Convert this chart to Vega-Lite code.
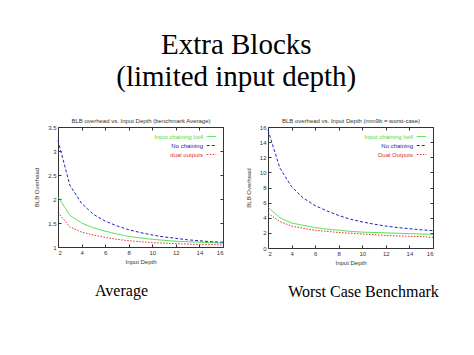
{
  "$schema": "https://vega.github.io/schema/vega-lite/v6.json",
  "background": "white",
  "padding": {"left": 33, "top": 31, "right": 10, "bottom": 5},
  "title": {
    "text": ["Extra Blocks", "(limited input depth)"],
    "font": "Liberation Serif",
    "fontSize": 29,
    "fontWeight": "normal",
    "lineHeight": 32,
    "color": "black",
    "anchor": "middle",
    "offset": 25
  },
  "datasets": {
    "avg": [
      {"depth": 2, "series": "Input chaining lut4", "overhead": 2.05},
      {"depth": 3, "series": "Input chaining lut4", "overhead": 1.66},
      {"depth": 4, "series": "Input chaining lut4", "overhead": 1.5},
      {"depth": 5, "series": "Input chaining lut4", "overhead": 1.4},
      {"depth": 6, "series": "Input chaining lut4", "overhead": 1.33},
      {"depth": 7, "series": "Input chaining lut4", "overhead": 1.27},
      {"depth": 8, "series": "Input chaining lut4", "overhead": 1.22},
      {"depth": 9, "series": "Input chaining lut4", "overhead": 1.19},
      {"depth": 10, "series": "Input chaining lut4", "overhead": 1.16},
      {"depth": 11, "series": "Input chaining lut4", "overhead": 1.14},
      {"depth": 12, "series": "Input chaining lut4", "overhead": 1.12},
      {"depth": 13, "series": "Input chaining lut4", "overhead": 1.11},
      {"depth": 14, "series": "Input chaining lut4", "overhead": 1.1},
      {"depth": 15, "series": "Input chaining lut4", "overhead": 1.09},
      {"depth": 16, "series": "Input chaining lut4", "overhead": 1.08},
      {"depth": 2, "series": "No chaining", "overhead": 3.22},
      {"depth": 3, "series": "No chaining", "overhead": 2.29},
      {"depth": 4, "series": "No chaining", "overhead": 1.91},
      {"depth": 5, "series": "No chaining", "overhead": 1.68},
      {"depth": 6, "series": "No chaining", "overhead": 1.54},
      {"depth": 7, "series": "No chaining", "overhead": 1.44},
      {"depth": 8, "series": "No chaining", "overhead": 1.36},
      {"depth": 9, "series": "No chaining", "overhead": 1.3},
      {"depth": 10, "series": "No chaining", "overhead": 1.25},
      {"depth": 11, "series": "No chaining", "overhead": 1.21},
      {"depth": 12, "series": "No chaining", "overhead": 1.18},
      {"depth": 13, "series": "No chaining", "overhead": 1.15},
      {"depth": 14, "series": "No chaining", "overhead": 1.13},
      {"depth": 15, "series": "No chaining", "overhead": 1.11},
      {"depth": 16, "series": "No chaining", "overhead": 1.1},
      {"depth": 2, "series": "dual outputs", "overhead": 1.72},
      {"depth": 3, "series": "dual outputs", "overhead": 1.42},
      {"depth": 4, "series": "dual outputs", "overhead": 1.31},
      {"depth": 5, "series": "dual outputs", "overhead": 1.25},
      {"depth": 6, "series": "dual outputs", "overhead": 1.2},
      {"depth": 7, "series": "dual outputs", "overhead": 1.16},
      {"depth": 8, "series": "dual outputs", "overhead": 1.13},
      {"depth": 9, "series": "dual outputs", "overhead": 1.11},
      {"depth": 10, "series": "dual outputs", "overhead": 1.09},
      {"depth": 11, "series": "dual outputs", "overhead": 1.08},
      {"depth": 12, "series": "dual outputs", "overhead": 1.07},
      {"depth": 13, "series": "dual outputs", "overhead": 1.06},
      {"depth": 14, "series": "dual outputs", "overhead": 1.05},
      {"depth": 15, "series": "dual outputs", "overhead": 1.05},
      {"depth": 16, "series": "dual outputs", "overhead": 1.04}
    ],
    "worst": [
      {"depth": 2, "series": "Input chaining lut4", "overhead": 5.4},
      {"depth": 3, "series": "Input chaining lut4", "overhead": 4.0},
      {"depth": 4, "series": "Input chaining lut4", "overhead": 3.3},
      {"depth": 5, "series": "Input chaining lut4", "overhead": 3.0},
      {"depth": 6, "series": "Input chaining lut4", "overhead": 2.7},
      {"depth": 7, "series": "Input chaining lut4", "overhead": 2.5},
      {"depth": 8, "series": "Input chaining lut4", "overhead": 2.35},
      {"depth": 9, "series": "Input chaining lut4", "overhead": 2.2},
      {"depth": 10, "series": "Input chaining lut4", "overhead": 2.1},
      {"depth": 11, "series": "Input chaining lut4", "overhead": 2.05},
      {"depth": 12, "series": "Input chaining lut4", "overhead": 2.0},
      {"depth": 13, "series": "Input chaining lut4", "overhead": 1.95},
      {"depth": 14, "series": "Input chaining lut4", "overhead": 1.9},
      {"depth": 15, "series": "Input chaining lut4", "overhead": 1.85},
      {"depth": 16, "series": "Input chaining lut4", "overhead": 1.8},
      {"depth": 2, "series": "No chaining", "overhead": 15.6},
      {"depth": 3, "series": "No chaining", "overhead": 10.6},
      {"depth": 4, "series": "No chaining", "overhead": 8.1},
      {"depth": 5, "series": "No chaining", "overhead": 6.6},
      {"depth": 6, "series": "No chaining", "overhead": 5.6},
      {"depth": 7, "series": "No chaining", "overhead": 4.9},
      {"depth": 8, "series": "No chaining", "overhead": 4.3},
      {"depth": 9, "series": "No chaining", "overhead": 3.8},
      {"depth": 10, "series": "No chaining", "overhead": 3.45},
      {"depth": 11, "series": "No chaining", "overhead": 3.15},
      {"depth": 12, "series": "No chaining", "overhead": 2.9},
      {"depth": 13, "series": "No chaining", "overhead": 2.7},
      {"depth": 14, "series": "No chaining", "overhead": 2.55},
      {"depth": 15, "series": "No chaining", "overhead": 2.4},
      {"depth": 16, "series": "No chaining", "overhead": 2.3},
      {"depth": 2, "series": "Dual Outputs", "overhead": 4.6},
      {"depth": 3, "series": "Dual Outputs", "overhead": 3.5},
      {"depth": 4, "series": "Dual Outputs", "overhead": 2.9},
      {"depth": 5, "series": "Dual Outputs", "overhead": 2.6},
      {"depth": 6, "series": "Dual Outputs", "overhead": 2.35},
      {"depth": 7, "series": "Dual Outputs", "overhead": 2.2},
      {"depth": 8, "series": "Dual Outputs", "overhead": 2.05},
      {"depth": 9, "series": "Dual Outputs", "overhead": 1.95},
      {"depth": 10, "series": "Dual Outputs", "overhead": 1.85},
      {"depth": 11, "series": "Dual Outputs", "overhead": 1.75},
      {"depth": 12, "series": "Dual Outputs", "overhead": 1.65},
      {"depth": 13, "series": "Dual Outputs", "overhead": 1.6},
      {"depth": 14, "series": "Dual Outputs", "overhead": 1.55},
      {"depth": 15, "series": "Dual Outputs", "overhead": 1.5},
      {"depth": 16, "series": "Dual Outputs", "overhead": 1.4}
    ]
  },
  "spacing": 18,
  "resolve": {"scale": {"color": "independent", "strokeDash": "independent"}, "legend": {"color": "independent", "strokeDash": "independent"}},
  "hconcat": [
    {
      "width": 165,
      "height": 120,
      "title": {"text": "Average", "orient": "bottom", "font": "Liberation Serif", "fontSize": 16, "fontWeight": "normal", "color": "black", "anchor": "middle", "dx": -19, "offset": 19},
      "data": {"name": "avg"},
      "layer": [
        {
          "mark": {"type": "line", "strokeWidth": 1},
          "encoding": {
            "x": {"field": "depth", "type": "quantitative", "scale": {"domain": [2, 16], "nice": false}, "axis": {"title": "Input Depth", "values": [2, 4, 6, 8, 10, 12, 14, 16]}},
            "y": {"field": "overhead", "type": "quantitative", "scale": {"domain": [1, 3.5], "nice": false, "zero": false}, "axis": {"title": "BLB Overhead", "format": "~g", "values": [1, 1.5, 2, 2.5, 3, 3.5]}},
            "color": {"field": "series", "type": "nominal", "sort": ["Input chaining lut4", "No chaining", "dual outputs"], "scale": {"domain": ["Input chaining lut4", "No chaining", "dual outputs"], "range": ["#44e044", "#2222bb", "#dd3333"]}, "legend": {"title": null, "orient": "top-right", "offset": 4, "symbolType": "stroke", "symbolSize": 90, "symbolStrokeWidth": 1, "labelFontSize": 6, "labelFont": "Liberation Sans", "rowPadding": 0, "labelLimit": 200, "encode": {"labels": {"update": {"fill": {"signal": "datum.value == 'No chaining' ? '#2222bb' : datum.value == 'dual outputs' ? '#dd3333' : '#44e044'"}, "x": {"value": -3}, "align": {"value": "right"}}}}}},
            "strokeDash": {"field": "series", "type": "nominal", "scale": {"domain": ["Input chaining lut4", "No chaining", "dual outputs"], "range": [[1, 0], [3, 2], [1.5, 1.5]]}, "legend": null}
          }
        },
        {
          "mark": {"type": "line", "opacity": 0},
          "encoding": {
            "x": {"field": "depth", "type": "quantitative", "axis": {"orient": "top", "labels": false, "title": "BLB overhead vs. Input Depth (benchmark Average)", "titlePadding": 3, "values": [2, 4, 6, 8, 10, 12, 14, 16]}},
            "y": {"field": "overhead", "type": "quantitative", "axis": {"orient": "right", "labels": false, "title": null, "values": [1, 1.5, 2, 2.5, 3, 3.5]}},
            "detail": {"field": "series"}
          }
        }
      ],
      "resolve": {"axis": {"x": "independent", "y": "independent"}}
    },
    {
      "width": 165,
      "height": 121,
      "title": {"text": "Worst Case Benchmark", "orient": "bottom", "font": "Liberation Serif", "fontSize": 16, "fontWeight": "normal", "color": "black", "anchor": "middle", "dx": 13, "offset": 19},
      "data": {"name": "worst"},
      "layer": [
        {
          "mark": {"type": "line", "strokeWidth": 1},
          "encoding": {
            "x": {"field": "depth", "type": "quantitative", "scale": {"domain": [2, 16], "nice": false}, "axis": {"title": "Input Depth", "values": [2, 4, 6, 8, 10, 12, 14, 16]}},
            "y": {"field": "overhead", "type": "quantitative", "scale": {"domain": [0, 16], "nice": false}, "axis": {"title": "BLB Overhead", "values": [0, 2, 4, 6, 8, 10, 12, 14, 16]}},
            "color": {"field": "series", "type": "nominal", "scale": {"domain": ["Input chaining lut4", "No chaining", "Dual Outputs"], "range": ["#44e044", "#2222bb", "#dd3333"]}, "legend": {"title": null, "orient": "top-right", "offset": 4, "symbolType": "stroke", "symbolSize": 90, "symbolStrokeWidth": 1, "labelFontSize": 6, "labelFont": "Liberation Sans", "rowPadding": 0, "labelLimit": 200, "encode": {"labels": {"update": {"fill": {"signal": "datum.value == 'No chaining' ? '#2222bb' : datum.value == 'Dual Outputs' ? '#dd3333' : '#44e044'"}, "x": {"value": -3}, "align": {"value": "right"}}}}}},
            "strokeDash": {"field": "series", "type": "nominal", "scale": {"domain": ["Input chaining lut4", "No chaining", "Dual Outputs"], "range": [[1, 0], [3, 2], [1.5, 1.5]]}, "legend": null}
          }
        },
        {
          "mark": {"type": "line", "opacity": 0},
          "encoding": {
            "x": {"field": "depth", "type": "quantitative", "axis": {"orient": "top", "labels": false, "title": "BLB overhead vs. Input Depth (mm9b = worst-case)", "titlePadding": 3, "values": [2, 4, 6, 8, 10, 12, 14, 16]}},
            "y": {"field": "overhead", "type": "quantitative", "axis": {"orient": "right", "labels": false, "title": null, "values": [0, 2, 4, 6, 8, 10, 12, 14, 16]}},
            "detail": {"field": "series"}
          }
        }
      ],
      "resolve": {"axis": {"x": "independent", "y": "independent"}}
    }
  ],
  "config": {
    "view": {"stroke": "#333333", "strokeWidth": 1},
    "axis": {
      "grid": false,
      "domain": false,
      "tickSize": -3,
      "tickColor": "#333333",
      "tickWidth": 1,
      "labelFont": "Liberation Sans",
      "labelFontSize": 6,
      "labelColor": "#333333",
      "labelPadding": 5,
      "titleFont": "Liberation Sans",
      "titleFontSize": 6,
      "titleFontWeight": "normal",
      "titleColor": "#333333",
      "titlePadding": 3
    },
    "axisY": {"titlePadding": 8}
  }
}
